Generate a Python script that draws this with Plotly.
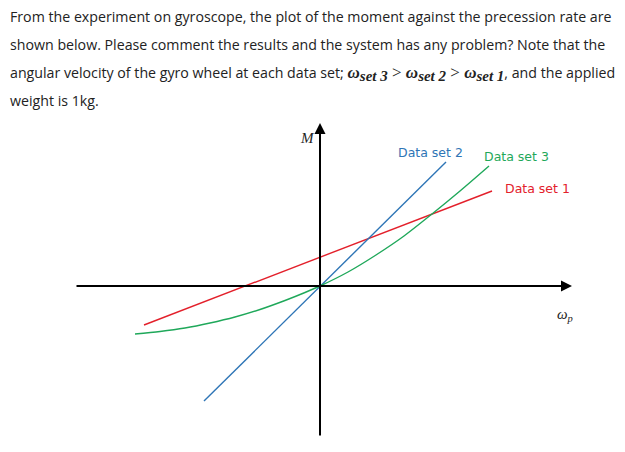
import plotly.graph_objects as go

# sketch values (arbitrary units, origin at axes crossing)
set1_x = [-176, 172]
set1_m = [-39, 95]

set2_x = [-116, 126]
set2_m = [-115, 124]

set3_x = [-185, -160, -135, -110, -85, -60, -35, -15, 0, 28, 56, 84, 112, 140, 169]
set3_m = [-48, -45.5, -42, -37, -31, -23.5, -14.5, -6.5, 0, 14, 31, 50, 72, 95, 120]

series_names = ['Data set 1', 'Data set 2', 'Data set 3']
colors = {'Data set 1': '#e3202b', 'Data set 2': '#2e75b6', 'Data set 3': '#1fa85a'}

w = '<span style="font-family:Liberation Serif;font-size:17px"><b><i>ω</i></b></span>'
gt = '<span style="font-family:Liberation Serif;font-size:17px"> &gt; </span>'


def sub(s):
    return '<sub><span style="font-family:Liberation Serif;font-size:15px"><b><i>' + s + '</i></b></span></sub>'


question = [
    'From the experiment on gyroscope, the plot of the moment against the precession rate are',
    'shown below. Please comment the results and the system has any problem? Note that the',
    'angular velocity of the gyro wheel at each data set; '
    + w + sub('set 3') + gt + w + sub('set 2') + gt + w + sub('set 1') + ', and the applied',
    'weight is 1kg.',
]

fig = go.Figure()

data = {
    'Data set 1': (set1_x, set1_m),
    'Data set 2': (set2_x, set2_m),
    'Data set 3': (set3_x, set3_m),
}
for name in series_names:
    xs, ms = data[name]
    fig.add_trace(go.Scatter(x=xs, y=ms, mode='lines', name=name,
                             line={'color': colors[name], 'width': 1.4,
                                   'shape': 'spline', 'smoothing': 0.8},
                             hoverinfo='skip'))

# hand-drawn style axes with arrow heads
fig.add_annotation(x=252, y=0, ax=-245, ay=0, xref='x', yref='y',
                   axref='x', ayref='y', text='', showarrow=True,
                   arrowhead=2, arrowsize=1.1, arrowwidth=2, arrowcolor='#000000')
fig.add_annotation(x=0, y=163, ax=0, ay=-151, xref='x', yref='y',
                   axref='x', ayref='y', text='', showarrow=True,
                   arrowhead=2, arrowsize=1.1, arrowwidth=2, arrowcolor='#000000')

fig.add_annotation(x=-13, y=148, text='<i>M</i>', showarrow=False,
                   font={'family': 'Liberation Serif', 'size': 15, 'color': '#222222'})
fig.add_annotation(x=245, y=-29, text='<i>ω</i><sub><i>p</i></sub>', showarrow=False,
                   font={'family': 'Liberation Serif', 'size': 15, 'color': '#222222'})

# curve labels
label_pos = {'Data set 1': (217, 98), 'Data set 2': (110, 134), 'Data set 3': (196, 130)}
for name in series_names:
    lx, ly = label_pos[name]
    fig.add_annotation(x=lx, y=ly, text=name, showarrow=False,
                       font={'family': 'DejaVu Sans', 'size': 12.5, 'color': colors[name]})

# question text above the sketch (page has an 8px body margin, hence the offsets)
for i, line in enumerate(question):
    fig.add_annotation(x=0, y=1 - (9 + 28 * i) / 452, xref='paper', yref='paper',
                       xanchor='left', yanchor='middle', text=line, showarrow=False,
                       font={'family': 'Open Sans', 'size': 14.2, 'color': '#222222'})

fig.update_layout(width=625, height=452,
                  margin={'l': 0, 'r': 0, 't': 0, 'b': 0},
                  paper_bgcolor='#ffffff', plot_bgcolor='#ffffff',
                  showlegend=False,
                  xaxis=dict(range=[-312, 313], visible=False, fixedrange=True),
                  yaxis=dict(range=[-174, 278], visible=False, fixedrange=True))

fig.write_html('out.html')
